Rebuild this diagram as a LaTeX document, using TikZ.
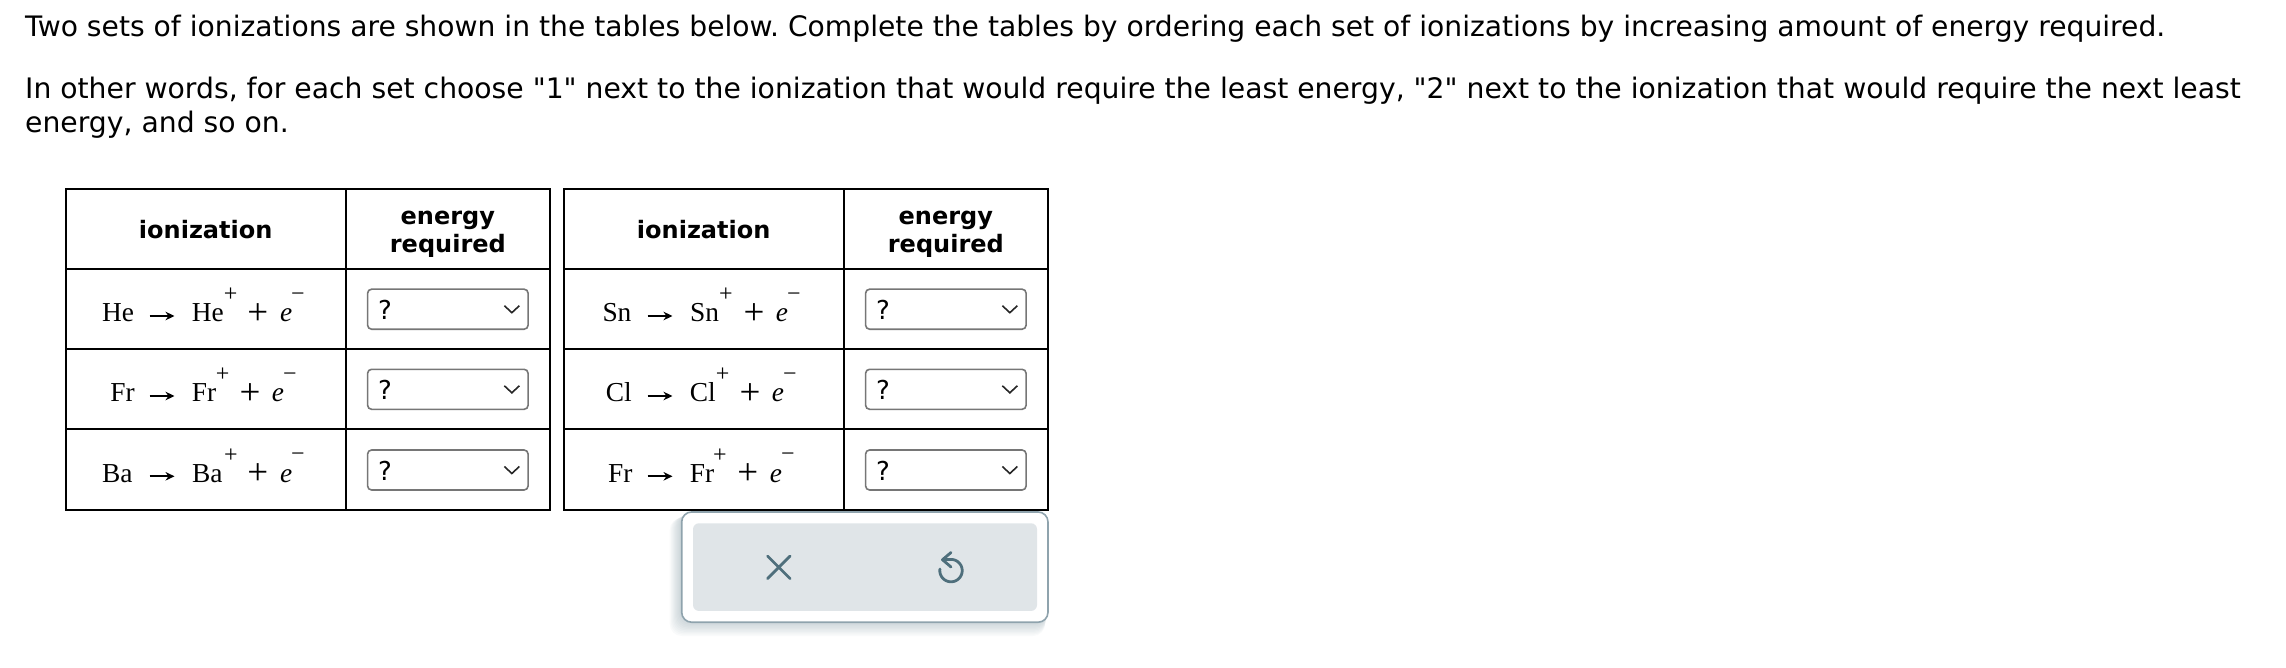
\documentclass[tikz,border=0pt]{standalone}
\usepackage{fontspec}
\setmainfont{DejaVu Sans}
\newfontfamily\plainfont{DejaVu Sans}
\newfontfamily\ionfont{Liberation Serif}
\usetikzlibrary{arrows.meta,calc}
\definecolor{panelline}{HTML}{8FA3AD}
\definecolor{panelfill}{HTML}{E0E5E8}
\definecolor{iconcol}{HTML}{4F6F7C}
\definecolor{selline}{HTML}{767676}
\tikzset{
  body/.style={anchor=base west,inner sep=0pt,font=\plainfont\frenchspacing\fontsize{28.24}{28}\selectfont},
  bodyshort/.style={anchor=base west,inner sep=0pt,font=\plainfont\frenchspacing\fontsize{28.18}{28}\selectfont},
  cell/.style={draw=black,line width=2pt,inner sep=0pt},
  headlabel/.style={anchor=base,inner sep=0pt,font=\fontsize{24}{29}\selectfont\bfseries},
  selbox/.style={draw=selline,line width=1.6pt,rounded corners=4pt,minimum width=160.5pt,minimum height=40pt,inner sep=0pt},
  qmark/.style={anchor=base west,inner sep=0pt,font=\fontsize{26}{26}\selectfont},
  chev/.style={draw=black!85,line width=1.6pt},
  elem/.style={anchor=base west,inner sep=0pt,font=\ionfont\fontsize{27.4}{27.4}\selectfont},
  bigplus/.style={anchor=center,inner sep=0pt,font=\ionfont\fontsize{37}{37}\selectfont},
  supmark/.style={anchor=center,inner sep=0pt,font=\ionfont\fontsize{24}{24}\selectfont},
  elec/.style={anchor=base west,inner sep=0pt,font=\ionfont\itshape\fontsize{27.4}{27.4}\selectfont},
  ionarrow/.style={draw=black,line width=2pt,-{Stealth[length=9pt,width=8.5pt]}},
  icon/.style={draw=iconcol,line width=2.8pt,line cap=round,line join=round}
}
\begin{document}
\begin{tikzpicture}[x=1pt,y=-1pt]
\useasboundingbox (0,0) rectangle (2286,668);
% prompt
\node[bodyshort] (l1) at (25,36.5) {Two sets of ionizations are shown in the tables below. Complete the tables by ordering each set of ionizations by increasing amount of energy required.};
\node[body] (l2) at (25,98.5) {In other words, for each set choose "1" next to the ionization that would require the least energy, "2" next to the ionization that would require the next least};
\node[body] (l3) at (25,133) {energy, and so on.};
% table cells
\foreach \n/\cx/\cy/\w/\h in {
  a/205.7/229/280/80,
  b/447.85/229/204.3/80,
  c/703.7/229/280/80,
  d/945.85/229/204.3/80,
  a1/205.7/309/280/80,a2/205.7/389/280/80,a3/205.7/469.6/280/81.2,
  b1/447.85/309/204.3/80,b2/447.85/389/204.3/80,b3/447.85/469.6/204.3/81.2,
  c1/703.7/309/280/80,c2/703.7/389/280/80,c3/703.7/469.6/280/81.2,
  d1/945.85/309/204.3/80,d2/945.85/389/204.3/80,d3/945.85/469.6/204.3/81.2}
  {\node[cell,minimum width=\w pt,minimum height=\h pt] (\n) at (\cx,\cy) {};}
% header labels
\foreach \n/\cx/\by/\t in {
  ha/205.7/238.3/ionization,
  hb/447.85/224.5/energy,
  hbb/447.85/252.7/required,
  hc/703.7/238.3/ionization,
  hd/945.85/224.5/energy,
  hdd/945.85/252.7/required}
  {\node[headlabel] (\n) at (\cx,\by) {\t};}
% selects
\foreach \n/\cx/\cy in {s1/447.85/309.2,s2/447.85/389.3,s3/447.85/470,s4/945.85/309.2,s5/945.85/389.3,s6/945.85/470}{
  \node[selbox] (\n) at (\cx,\cy) {};
  \node[qmark] (\n q) at ($(\cx,\cy)+(-70,10)$) {?};
  \coordinate (\n c1) at ($(\cx,\cy)+(56.5,-3.5)$);
  \coordinate (\n c2) at ($(\cx,\cy)+(64,3.5)$);
  \coordinate (\n c3) at ($(\cx,\cy)+(71.5,-3.5)$);
  \draw[chev] (\n c1) -- (\n c2) -- (\n c3);
}
% ionization equations
\foreach \id/\b/\xa/\as/\xb/\xs/\xp/\xe/\xm/\el in {
  r1/321.7/102/149.5/191.7/230.7/257.7/281/298/He,
  r2/401.7/110.2/149.5/191.7/222.7/250/272.7/290/Fr,
  r3/482/102/149.5/192/231/257.7/281/298/Ba,
  r4/321.7/602.3/647.5/690/726/754/776.7/794/Sn,
  r5/401.7/605.7/647.5/689.7/722.7/750/772.7/790/Cl,
  r6/482/608/647.5/689.7/720/747.7/770.7/788/Fr}{
  \node[elem] (\id a) at (\xa,\b) {\el};
  \node[elem] (\id b) at (\xb,\b) {\el};
  \coordinate (\id s) at (\as,\b-5.7);
  \coordinate (\id t) at (\as+25,\b-5.7);
  \draw[ionarrow] (\id s) -- (\id t);
  \node[supmark] (\id p) at (\xs,\b-26.7) {+};
  \node[bigplus] (\id q) at (\xp,\b-7.7) {+};
  \node[elec] (\id e) at (\xe-1,\b) {e};
  \node[supmark] (\id m) at (\xm,\b-24.5) {−};
}
% floating panel shadow
\foreach \g in {1,...,10}
  \fill[iconcol,opacity=.03,rounded corners=12pt] (681.7-\g*1.1-1,512+\g*0.6) rectangle (1048-\g*0.3,622+\g*1.4);
\node[draw=panelline,fill=white,line width=1.6pt,rounded corners=10pt,minimum width=366.3pt,minimum height=110.3pt,inner sep=0pt] (panel) at (864.85,567.1) {};
\node[fill=panelfill,rounded corners=6pt,minimum width=344pt,minimum height=87.7pt,inner sep=0pt] (tray) at (865,567.1) {};
% icons
\draw[icon] (767.5,556) -- (790.2,578.7) (790.2,556) -- (767.5,578.7);
\draw[icon] plot[domain=-90:188,samples=40,smooth] ({951+11.2*cos(\x)},{570.6+11.2*sin(\x)});
\draw[icon] (951,552.5) -- (942.5,559.7) -- (951,567);
\draw[icon] (942.5,559.7) -- (951,559.4);
\end{tikzpicture}
\end{document}
